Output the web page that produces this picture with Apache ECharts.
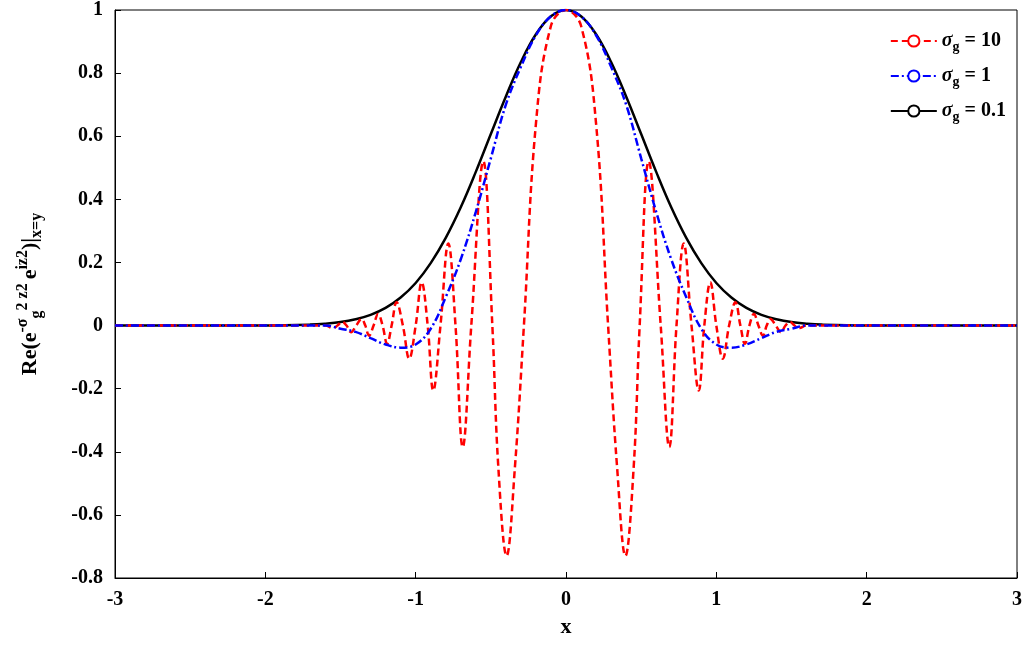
<!DOCTYPE html>
<html>
<head>
<meta charset="utf-8">
<script src="https://cdn.jsdelivr.net/npm/echarts@6/dist/echarts.min.js"></script>
<style>html,body{margin:0;padding:0;background:#fff}#chart{width:1025px;height:645px}</style>
</head>
<body>
<div id="chart"></div>
<script>
// values
var redX = [-3, -2, -1.6, -1.55, -1.52, -1.49, -1.46, -1.43, -1.395, -1.36, -1.335, -1.31, -1.28, -1.25, -1.22, -1.19, -1.16, -1.127, -1.085, -1.043, -1.0, -0.96, -0.92, -0.883, -0.835, -0.783, -0.735, -0.687, -0.63, -0.55, -0.49, -0.45, -0.395, -0.34, -0.28, -0.2, -0.1, 0,
            0.1, 0.2, 0.28, 0.34, 0.395, 0.45, 0.49, 0.55, 0.63, 0.687, 0.735, 0.783, 0.835, 0.883, 0.92, 0.96, 1.0, 1.043, 1.085, 1.127, 1.16, 1.19, 1.22, 1.25, 1.28, 1.31, 1.335, 1.36, 1.395, 1.43, 1.46, 1.49, 1.52, 1.55, 1.6, 2, 3];
var redY = [0, 0, 0, -0.008, 0, 0.012, 0, -0.021, 0, 0.021, 0, -0.032, 0, 0.037, 0, -0.058, 0, 0.074, 0, -0.105, 0, 0.137, 0, -0.206, 0, 0.26, 0, -0.385, 0, 0.52, 0, -0.45, -0.73, -0.45, 0, 0.64, 0.95, 1,
            0.95, 0.64, 0, -0.45, -0.73, -0.45, 0, 0.52, 0, -0.385, 0, 0.26, 0, -0.206, 0, 0.137, 0, -0.105, 0, 0.074, 0, -0.058, 0, 0.037, 0, -0.032, 0, 0.021, 0, -0.021, 0, 0.012, 0, -0.008, 0, 0, 0];
var gridX = [-3, -2, -1.7, -1.6, -1.5, -1.4, -1.3, -1.2, -1.1, -1.0, -0.9, -0.8, -0.7, -0.6, -0.5, -0.4, -0.3, -0.2, -0.1, 0,
             0.1, 0.2, 0.3, 0.4, 0.5, 0.6, 0.7, 0.8, 0.9, 1.0, 1.1, 1.2, 1.3, 1.4, 1.5, 1.6, 1.7, 2, 3];
var blueY = [0, 0, 0, 0, -0.01, -0.02, -0.04, -0.06, -0.07, -0.06, -0.01, 0.09, 0.21, 0.36, 0.53, 0.7, 0.82, 0.92, 0.98, 1,
             0.98, 0.92, 0.82, 0.7, 0.53, 0.36, 0.21, 0.09, -0.01, -0.06, -0.07, -0.06, -0.04, -0.02, -0.01, 0, 0, 0, 0];
var blackY = [0, 0.0003, 0.003, 0.006, 0.011, 0.02, 0.034, 0.056, 0.089, 0.135, 0.198, 0.278, 0.375, 0.487, 0.607, 0.726, 0.835, 0.923, 0.98, 1,
              0.98, 0.923, 0.835, 0.726, 0.607, 0.487, 0.375, 0.278, 0.198, 0.135, 0.089, 0.056, 0.034, 0.02, 0.011, 0.006, 0.003, 0.0003, 0];
var names = ['10', '1', '0.1'];
var yTicks = [-0.8, -0.6, -0.4, -0.2, 0, 0.2, 0.4, 0.6, 0.8, 1];

function pairs(xs, ys) { return xs.map(function (x, i) { return [x, ys[i]]; }); }

var font = 'Liberation Serif';
var chart = echarts.init(document.getElementById('chart'));
chart.setOption({
  animation: false,
  grid: { left: 115, right: 8, top: 9, bottom: 67, show: true, borderColor: '#000', borderWidth: 1 },
  xAxis: {
    type: 'value', min: -3, max: 3, interval: 1,
    name: 'x', nameLocation: 'middle', nameGap: 38,
    nameTextStyle: { fontFamily: font, fontWeight: 'bold', fontSize: 22, color: '#000' },
    axisLine: { onZero: false, lineStyle: { color: '#000' } },
    axisTick: { inside: true, length: 6, lineStyle: { color: '#000' } },
    axisLabel: { fontFamily: font, fontWeight: 'bold', fontSize: 20, color: '#000', margin: 12 },
    splitLine: { show: false }
  },
  yAxis: {
    type: 'value', min: -0.8, max: 1, interval: 0.2,
    name: '{n|Re(e}{sup|-σ}{sub|g}{sup|2 }{sup|z}{sup|2 }{n|e}{sup|iz}{sup|2}{n|)|}{sub|x=y}',
    nameLocation: 'middle', nameGap: 70, nameRotate: 90,
    nameTextStyle: {
      fontFamily: font, fontWeight: 'bold', fontSize: 22, color: '#000',
      rich: {
        n: { fontFamily: font, fontWeight: 'bold', fontSize: 22, color: '#000' },
        sup: { fontFamily: font, fontWeight: 'bold', fontSize: 16, color: '#000', verticalAlign: 'top', padding: [0, 0, 14, 0] },
        sub: { fontFamily: font, fontWeight: 'bold', fontSize: 16, color: '#000', verticalAlign: 'bottom', padding: [14, 0, 0, 0] }
      }
    },
    axisLine: { onZero: false, lineStyle: { color: '#000' } },
    axisTick: { inside: true, length: 6, lineStyle: { color: '#000' } },
    axisLabel: {
      fontFamily: font, fontWeight: 'bold', fontSize: 20, color: '#000', margin: 12,
      formatter: function (v) { var r = Math.round(v * 10) / 10; return yTicks.indexOf(r) >= 0 ? String(r) : ''; }
    },
    splitLine: { show: false }
  },
  legend: {
    show: true, data: names,
    right: 14, top: 26, orient: 'vertical', itemWidth: 46, itemHeight: 14, itemGap: 12,
    textStyle: {
      fontFamily: font, fontWeight: 'bold', fontSize: 20, color: '#000',
      rich: {
        s: { fontFamily: font, fontStyle: 'italic', fontWeight: 'bold', fontSize: 20, color: '#000' },
        g: { fontFamily: font, fontWeight: 'bold', fontSize: 14, color: '#000', verticalAlign: 'bottom', padding: [12, 0, 0, 0] },
        t: { fontFamily: font, fontWeight: 'bold', fontSize: 20, color: '#000' }
      }
    },
    formatter: function (name) { return '{s|σ}{g|g}{t| = ' + name + '}'; }
  },
  series: [
    { name: names[0], type: 'line', smooth: 0.4, showSymbol: false, data: pairs(redX, redY), z: 3,
      lineStyle: { color: '#ff0000', width: 2.5, type: [7, 4] }, itemStyle: { color: '#ff0000' } },
    { name: names[1], type: 'line', smooth: 0.4, showSymbol: false, data: pairs(gridX, blueY), z: 4,
      lineStyle: { color: '#0000ff', width: 2.5, type: [8, 3, 2, 3] }, itemStyle: { color: '#0000ff' } },
    { name: names[2], type: 'line', smooth: 0.4, showSymbol: false, data: pairs(gridX, blackY), z: 2,
      lineStyle: { color: '#000', width: 2.5 }, itemStyle: { color: '#000' } }
  ]
});
</script>
</body>
</html>
